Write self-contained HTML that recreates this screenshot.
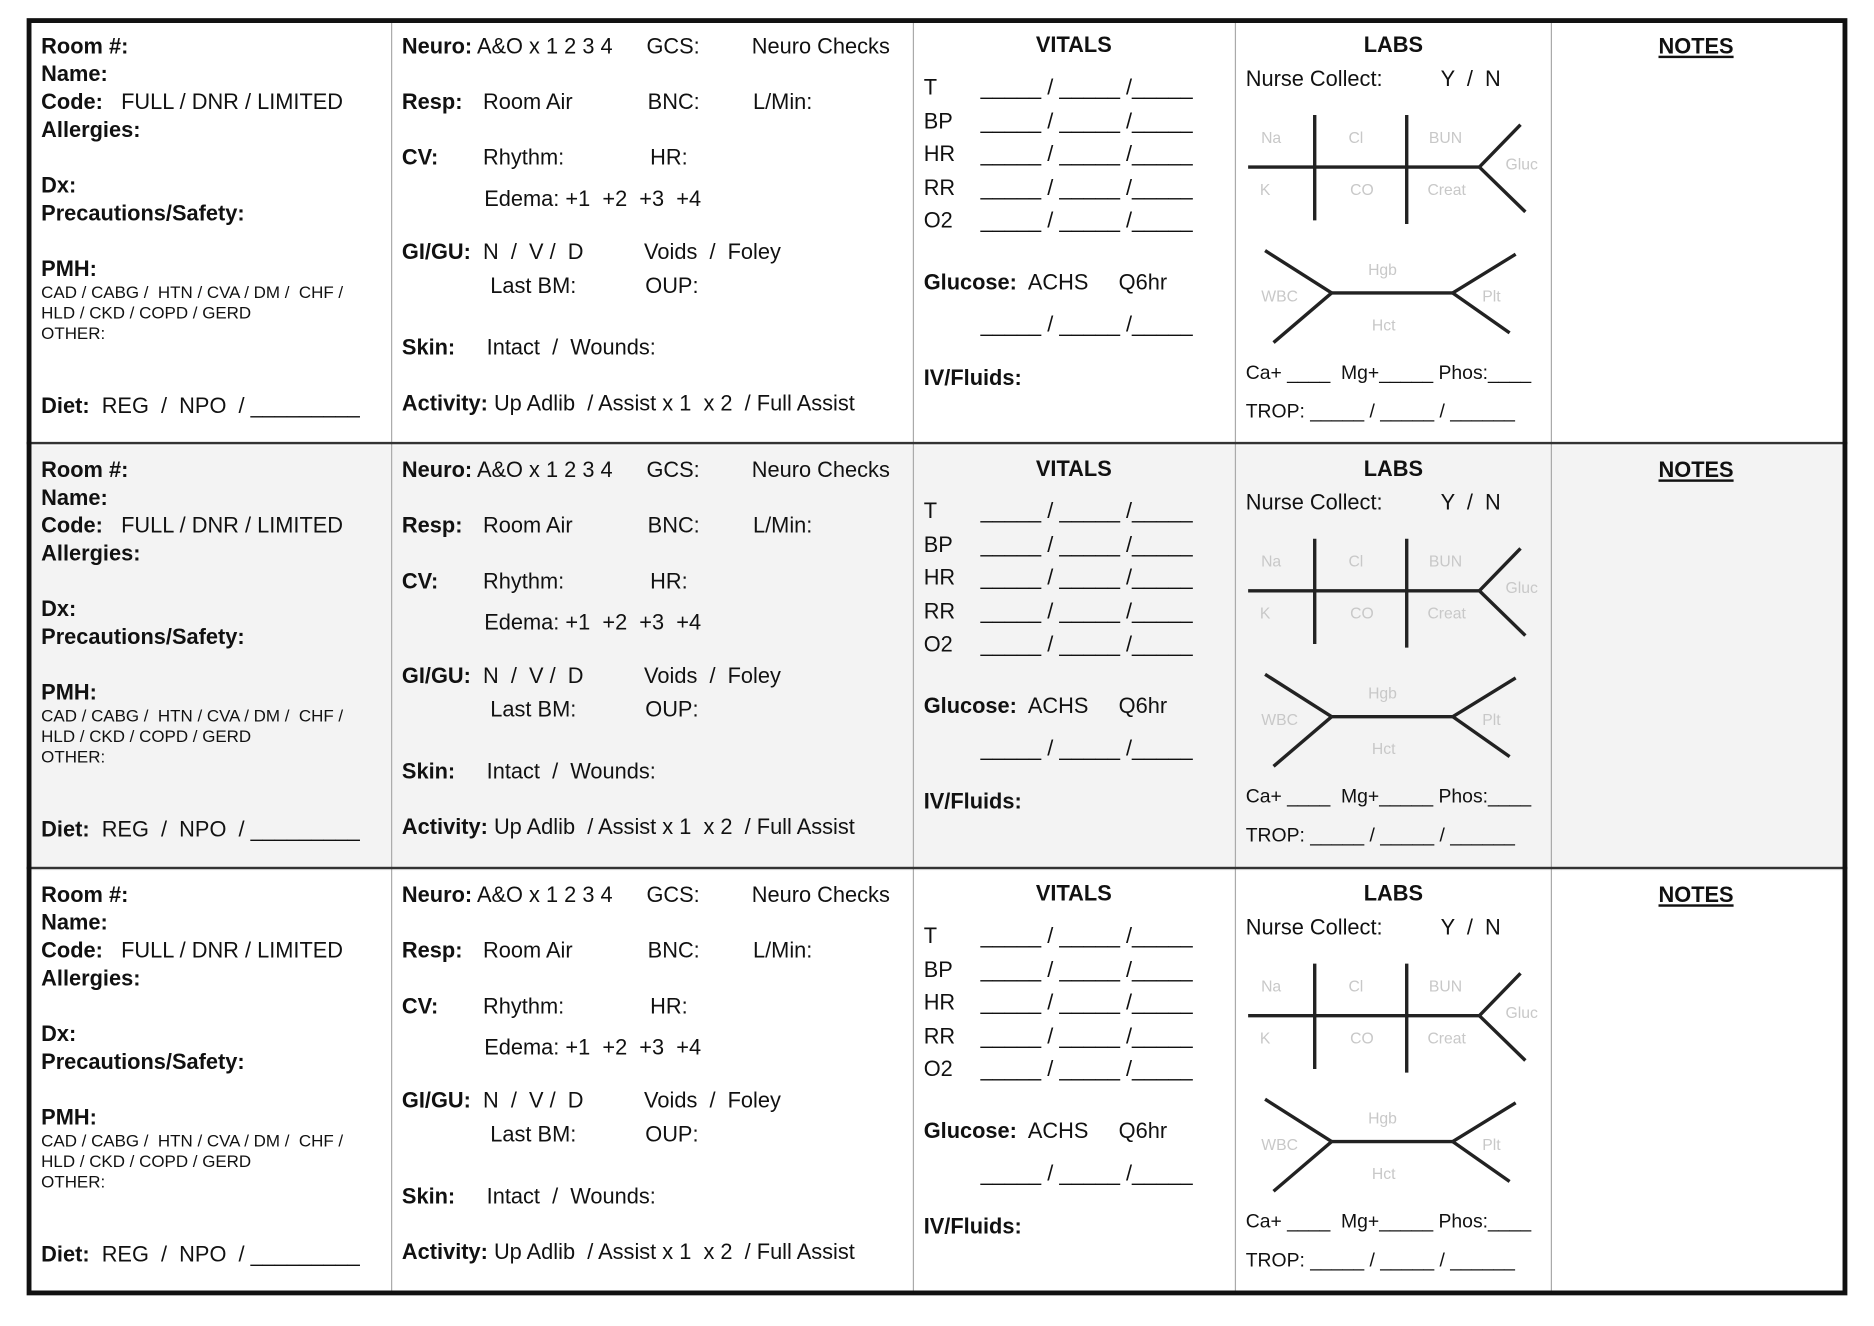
<!DOCTYPE html>
<html><head><meta charset="utf-8"><style>
html,body{margin:0;padding:0;background:#fff;}
body{width:1874px;height:1326px;overflow:hidden;position:relative;font-family:"Liberation Sans",Arial,sans-serif;color:#111;}
#s{position:absolute;left:0;top:0;width:1548px;height:1095px;transform:scale(1.2106);transform-origin:0 0;}
.frame{position:absolute;left:22px;top:15px;width:1496px;height:1047px;border:4px solid #111;}
.row{position:absolute;left:26px;width:1496px;height:351px;}
.row.g{background:#f3f3f3;}
.hl{position:absolute;left:22px;width:1504px;height:2px;background:#333;}
.vl{position:absolute;width:1px;background:#aaa;}
.t{position:absolute;font-size:18px;line-height:22px;white-space:pre;}
.l16{font-size:16px;}
.b{font-weight:bold;}
.sm{position:absolute;font-size:14px;line-height:16px;white-space:pre;}
.c{transform:translateX(-50%);}
u{text-decoration-thickness:2px;text-underline-offset:2px;}
svg{position:absolute;left:0;top:0;}
</style></head><body><div id="s">

<div class="row" style="top:19px;left:26px;"></div>
<div class="row g" style="top:368px;left:26px;"></div>
<div class="row" style="top:719px;left:26px;"></div>

<div class="vl" style="left:323px;top:19px;height:1047px"></div>
<div class="vl" style="left:754px;top:19px;height:1047px"></div>
<div class="vl" style="left:1020px;top:19px;height:1047px"></div>
<div class="vl" style="left:1281px;top:19px;height:1047px"></div>
<div class="hl" style="top:365px"></div>
<div class="hl" style="top:716px"></div>
<div class="frame"></div>

<div style="position:absolute;left:0;top:18px;width:1548px;height:350px;">
<div class="t b" style="left:34px;top:9px">Room #:</div>
<div class="t b" style="left:34px;top:32px">Name:</div>
<div class="t" style="left:34px;top:55px"><b>Code:</b>   FULL / DNR / LIMITED</div>
<div class="t b" style="left:34px;top:78px">Allergies:</div>
<div class="t b" style="left:34px;top:124px">Dx:</div>
<div class="t b" style="left:34px;top:147px">Precautions/Safety:</div>
<div class="t b" style="left:34px;top:193px">PMH:</div>
<div class="sm" style="left:34px;top:215px">CAD / CABG /  HTN / CVA / DM /  CHF /</div>
<div class="sm" style="left:34px;top:232px">HLD / CKD / COPD / GERD</div>
<div class="sm" style="left:34px;top:249px">OTHER:</div>
<div class="t" style="left:34px;top:306px"><b>Diet:</b>  REG  /  NPO  / _________</div>

<div class="t" style="left:332px;top:9px"><b>Neuro:</b> A&amp;O x 1 2 3 4</div>
<div class="t" style="left:534px;top:9px">GCS:</div>
<div class="t" style="left:621px;top:9px">Neuro Checks</div>
<div class="t b" style="left:332px;top:55px">Resp:</div>
<div class="t" style="left:399px;top:55px">Room Air</div>
<div class="t" style="left:535px;top:55px">BNC:</div>
<div class="t" style="left:622px;top:55px">L/Min:</div>
<div class="t b" style="left:332px;top:101px">CV:</div>
<div class="t" style="left:399px;top:101px">Rhythm:</div>
<div class="t" style="left:537px;top:101px">HR:</div>
<div class="t" style="left:400px;top:135px">Edema: +1  +2  +3  +4</div>
<div class="t" style="left:332px;top:179px"><b>GI/GU:</b>  N  /  V /  D</div>
<div class="t" style="left:532px;top:179px">Voids  /  Foley</div>
<div class="t" style="left:405px;top:207px">Last BM:</div>
<div class="t" style="left:533px;top:207px">OUP:</div>
<div class="t b" style="left:332px;top:258px">Skin:</div>
<div class="t" style="left:402px;top:258px">Intact  /  Wounds:</div>
<div class="t" style="left:332px;top:304px"><b>Activity:</b> Up Adlib  / Assist x 1  x 2  / Full Assist</div>

<div class="t b c" style="left:887px;top:8px">VITALS</div>
<div class="t" style="left:763px;top:43px">T</div><div class="t" style="left:810px;top:43px">_____ / _____ /_____</div>
<div class="t" style="left:763px;top:71px">BP</div><div class="t" style="left:810px;top:71px">_____ / _____ /_____</div>
<div class="t" style="left:763px;top:98px">HR</div><div class="t" style="left:810px;top:98px">_____ / _____ /_____</div>
<div class="t" style="left:763px;top:126px">RR</div><div class="t" style="left:810px;top:126px">_____ / _____ /_____</div>
<div class="t" style="left:763px;top:153px">O2</div><div class="t" style="left:810px;top:153px">_____ / _____ /_____</div>
<div class="t" style="left:763px;top:204px"><b>Glucose:</b>  ACHS     Q6hr</div>
<div class="t" style="left:810px;top:239px">_____ / _____ /_____</div>
<div class="t b" style="left:763px;top:283px">IV/Fluids:</div>

<div class="t b c" style="left:1151px;top:8px">LABS</div>
<div class="t" style="left:1029px;top:36px">Nurse Collect:</div>
<div class="t" style="left:1190px;top:36px">Y  /  N</div>
<svg width="1548" height="350" viewBox="0 0 1548 350">
<g stroke="#222" stroke-width="2.8" fill="none">
<line x1="1031" y1="120" x2="1222" y2="120"/>
<line x1="1086" y1="77" x2="1086" y2="164"/>
<line x1="1162" y1="77" x2="1162" y2="167"/>
<line x1="1222" y1="120" x2="1256" y2="85"/>
<line x1="1222" y1="120" x2="1260" y2="157"/>
<line x1="1100" y1="224" x2="1200" y2="224"/>
<line x1="1100" y1="224" x2="1045" y2="189"/>
<line x1="1100" y1="224" x2="1052" y2="265"/>
<line x1="1200" y1="224" x2="1252" y2="192"/>
<line x1="1200" y1="224" x2="1247" y2="257"/>
</g>
<g fill="#c8c8c8" font-family="Liberation Sans, sans-serif" font-size="13" text-anchor="middle">
<text x="1050" y="100">Na</text><text x="1120" y="100">Cl</text><text x="1194" y="100">BUN</text>
<text x="1045" y="143">K</text><text x="1125" y="143">CO</text><text x="1195" y="143">Creat</text>
<text x="1257" y="122">Gluc</text>
<text x="1142" y="209">Hgb</text><text x="1143" y="255">Hct</text>
<text x="1057" y="231">WBC</text><text x="1232" y="231">Plt</text>
</g></svg>
<div class="t l16" style="left:1029px;top:280px">Ca+ ____  Mg+_____ Phos:____</div>
<div class="t l16" style="left:1029px;top:312px">TROP: _____ / _____ / ______</div>

<div class="t b c" style="left:1401px;top:9px"><u>NOTES</u></div>
</div>

<div style="position:absolute;left:0;top:368px;width:1548px;height:350px;">
<div class="t b" style="left:34px;top:9px">Room #:</div>
<div class="t b" style="left:34px;top:32px">Name:</div>
<div class="t" style="left:34px;top:55px"><b>Code:</b>   FULL / DNR / LIMITED</div>
<div class="t b" style="left:34px;top:78px">Allergies:</div>
<div class="t b" style="left:34px;top:124px">Dx:</div>
<div class="t b" style="left:34px;top:147px">Precautions/Safety:</div>
<div class="t b" style="left:34px;top:193px">PMH:</div>
<div class="sm" style="left:34px;top:215px">CAD / CABG /  HTN / CVA / DM /  CHF /</div>
<div class="sm" style="left:34px;top:232px">HLD / CKD / COPD / GERD</div>
<div class="sm" style="left:34px;top:249px">OTHER:</div>
<div class="t" style="left:34px;top:306px"><b>Diet:</b>  REG  /  NPO  / _________</div>

<div class="t" style="left:332px;top:9px"><b>Neuro:</b> A&amp;O x 1 2 3 4</div>
<div class="t" style="left:534px;top:9px">GCS:</div>
<div class="t" style="left:621px;top:9px">Neuro Checks</div>
<div class="t b" style="left:332px;top:55px">Resp:</div>
<div class="t" style="left:399px;top:55px">Room Air</div>
<div class="t" style="left:535px;top:55px">BNC:</div>
<div class="t" style="left:622px;top:55px">L/Min:</div>
<div class="t b" style="left:332px;top:101px">CV:</div>
<div class="t" style="left:399px;top:101px">Rhythm:</div>
<div class="t" style="left:537px;top:101px">HR:</div>
<div class="t" style="left:400px;top:135px">Edema: +1  +2  +3  +4</div>
<div class="t" style="left:332px;top:179px"><b>GI/GU:</b>  N  /  V /  D</div>
<div class="t" style="left:532px;top:179px">Voids  /  Foley</div>
<div class="t" style="left:405px;top:207px">Last BM:</div>
<div class="t" style="left:533px;top:207px">OUP:</div>
<div class="t b" style="left:332px;top:258px">Skin:</div>
<div class="t" style="left:402px;top:258px">Intact  /  Wounds:</div>
<div class="t" style="left:332px;top:304px"><b>Activity:</b> Up Adlib  / Assist x 1  x 2  / Full Assist</div>

<div class="t b c" style="left:887px;top:8px">VITALS</div>
<div class="t" style="left:763px;top:43px">T</div><div class="t" style="left:810px;top:43px">_____ / _____ /_____</div>
<div class="t" style="left:763px;top:71px">BP</div><div class="t" style="left:810px;top:71px">_____ / _____ /_____</div>
<div class="t" style="left:763px;top:98px">HR</div><div class="t" style="left:810px;top:98px">_____ / _____ /_____</div>
<div class="t" style="left:763px;top:126px">RR</div><div class="t" style="left:810px;top:126px">_____ / _____ /_____</div>
<div class="t" style="left:763px;top:153px">O2</div><div class="t" style="left:810px;top:153px">_____ / _____ /_____</div>
<div class="t" style="left:763px;top:204px"><b>Glucose:</b>  ACHS     Q6hr</div>
<div class="t" style="left:810px;top:239px">_____ / _____ /_____</div>
<div class="t b" style="left:763px;top:283px">IV/Fluids:</div>

<div class="t b c" style="left:1151px;top:8px">LABS</div>
<div class="t" style="left:1029px;top:36px">Nurse Collect:</div>
<div class="t" style="left:1190px;top:36px">Y  /  N</div>
<svg width="1548" height="350" viewBox="0 0 1548 350">
<g stroke="#222" stroke-width="2.8" fill="none">
<line x1="1031" y1="120" x2="1222" y2="120"/>
<line x1="1086" y1="77" x2="1086" y2="164"/>
<line x1="1162" y1="77" x2="1162" y2="167"/>
<line x1="1222" y1="120" x2="1256" y2="85"/>
<line x1="1222" y1="120" x2="1260" y2="157"/>
<line x1="1100" y1="224" x2="1200" y2="224"/>
<line x1="1100" y1="224" x2="1045" y2="189"/>
<line x1="1100" y1="224" x2="1052" y2="265"/>
<line x1="1200" y1="224" x2="1252" y2="192"/>
<line x1="1200" y1="224" x2="1247" y2="257"/>
</g>
<g fill="#c8c8c8" font-family="Liberation Sans, sans-serif" font-size="13" text-anchor="middle">
<text x="1050" y="100">Na</text><text x="1120" y="100">Cl</text><text x="1194" y="100">BUN</text>
<text x="1045" y="143">K</text><text x="1125" y="143">CO</text><text x="1195" y="143">Creat</text>
<text x="1257" y="122">Gluc</text>
<text x="1142" y="209">Hgb</text><text x="1143" y="255">Hct</text>
<text x="1057" y="231">WBC</text><text x="1232" y="231">Plt</text>
</g></svg>
<div class="t l16" style="left:1029px;top:280px">Ca+ ____  Mg+_____ Phos:____</div>
<div class="t l16" style="left:1029px;top:312px">TROP: _____ / _____ / ______</div>

<div class="t b c" style="left:1401px;top:9px"><u>NOTES</u></div>
</div>

<div style="position:absolute;left:0;top:719px;width:1548px;height:350px;">
<div class="t b" style="left:34px;top:9px">Room #:</div>
<div class="t b" style="left:34px;top:32px">Name:</div>
<div class="t" style="left:34px;top:55px"><b>Code:</b>   FULL / DNR / LIMITED</div>
<div class="t b" style="left:34px;top:78px">Allergies:</div>
<div class="t b" style="left:34px;top:124px">Dx:</div>
<div class="t b" style="left:34px;top:147px">Precautions/Safety:</div>
<div class="t b" style="left:34px;top:193px">PMH:</div>
<div class="sm" style="left:34px;top:215px">CAD / CABG /  HTN / CVA / DM /  CHF /</div>
<div class="sm" style="left:34px;top:232px">HLD / CKD / COPD / GERD</div>
<div class="sm" style="left:34px;top:249px">OTHER:</div>
<div class="t" style="left:34px;top:306px"><b>Diet:</b>  REG  /  NPO  / _________</div>

<div class="t" style="left:332px;top:9px"><b>Neuro:</b> A&amp;O x 1 2 3 4</div>
<div class="t" style="left:534px;top:9px">GCS:</div>
<div class="t" style="left:621px;top:9px">Neuro Checks</div>
<div class="t b" style="left:332px;top:55px">Resp:</div>
<div class="t" style="left:399px;top:55px">Room Air</div>
<div class="t" style="left:535px;top:55px">BNC:</div>
<div class="t" style="left:622px;top:55px">L/Min:</div>
<div class="t b" style="left:332px;top:101px">CV:</div>
<div class="t" style="left:399px;top:101px">Rhythm:</div>
<div class="t" style="left:537px;top:101px">HR:</div>
<div class="t" style="left:400px;top:135px">Edema: +1  +2  +3  +4</div>
<div class="t" style="left:332px;top:179px"><b>GI/GU:</b>  N  /  V /  D</div>
<div class="t" style="left:532px;top:179px">Voids  /  Foley</div>
<div class="t" style="left:405px;top:207px">Last BM:</div>
<div class="t" style="left:533px;top:207px">OUP:</div>
<div class="t b" style="left:332px;top:258px">Skin:</div>
<div class="t" style="left:402px;top:258px">Intact  /  Wounds:</div>
<div class="t" style="left:332px;top:304px"><b>Activity:</b> Up Adlib  / Assist x 1  x 2  / Full Assist</div>

<div class="t b c" style="left:887px;top:8px">VITALS</div>
<div class="t" style="left:763px;top:43px">T</div><div class="t" style="left:810px;top:43px">_____ / _____ /_____</div>
<div class="t" style="left:763px;top:71px">BP</div><div class="t" style="left:810px;top:71px">_____ / _____ /_____</div>
<div class="t" style="left:763px;top:98px">HR</div><div class="t" style="left:810px;top:98px">_____ / _____ /_____</div>
<div class="t" style="left:763px;top:126px">RR</div><div class="t" style="left:810px;top:126px">_____ / _____ /_____</div>
<div class="t" style="left:763px;top:153px">O2</div><div class="t" style="left:810px;top:153px">_____ / _____ /_____</div>
<div class="t" style="left:763px;top:204px"><b>Glucose:</b>  ACHS     Q6hr</div>
<div class="t" style="left:810px;top:239px">_____ / _____ /_____</div>
<div class="t b" style="left:763px;top:283px">IV/Fluids:</div>

<div class="t b c" style="left:1151px;top:8px">LABS</div>
<div class="t" style="left:1029px;top:36px">Nurse Collect:</div>
<div class="t" style="left:1190px;top:36px">Y  /  N</div>
<svg width="1548" height="350" viewBox="0 0 1548 350">
<g stroke="#222" stroke-width="2.8" fill="none">
<line x1="1031" y1="120" x2="1222" y2="120"/>
<line x1="1086" y1="77" x2="1086" y2="164"/>
<line x1="1162" y1="77" x2="1162" y2="167"/>
<line x1="1222" y1="120" x2="1256" y2="85"/>
<line x1="1222" y1="120" x2="1260" y2="157"/>
<line x1="1100" y1="224" x2="1200" y2="224"/>
<line x1="1100" y1="224" x2="1045" y2="189"/>
<line x1="1100" y1="224" x2="1052" y2="265"/>
<line x1="1200" y1="224" x2="1252" y2="192"/>
<line x1="1200" y1="224" x2="1247" y2="257"/>
</g>
<g fill="#c8c8c8" font-family="Liberation Sans, sans-serif" font-size="13" text-anchor="middle">
<text x="1050" y="100">Na</text><text x="1120" y="100">Cl</text><text x="1194" y="100">BUN</text>
<text x="1045" y="143">K</text><text x="1125" y="143">CO</text><text x="1195" y="143">Creat</text>
<text x="1257" y="122">Gluc</text>
<text x="1142" y="209">Hgb</text><text x="1143" y="255">Hct</text>
<text x="1057" y="231">WBC</text><text x="1232" y="231">Plt</text>
</g></svg>
<div class="t l16" style="left:1029px;top:280px">Ca+ ____  Mg+_____ Phos:____</div>
<div class="t l16" style="left:1029px;top:312px">TROP: _____ / _____ / ______</div>

<div class="t b c" style="left:1401px;top:9px"><u>NOTES</u></div>
</div>

</div></body></html>
